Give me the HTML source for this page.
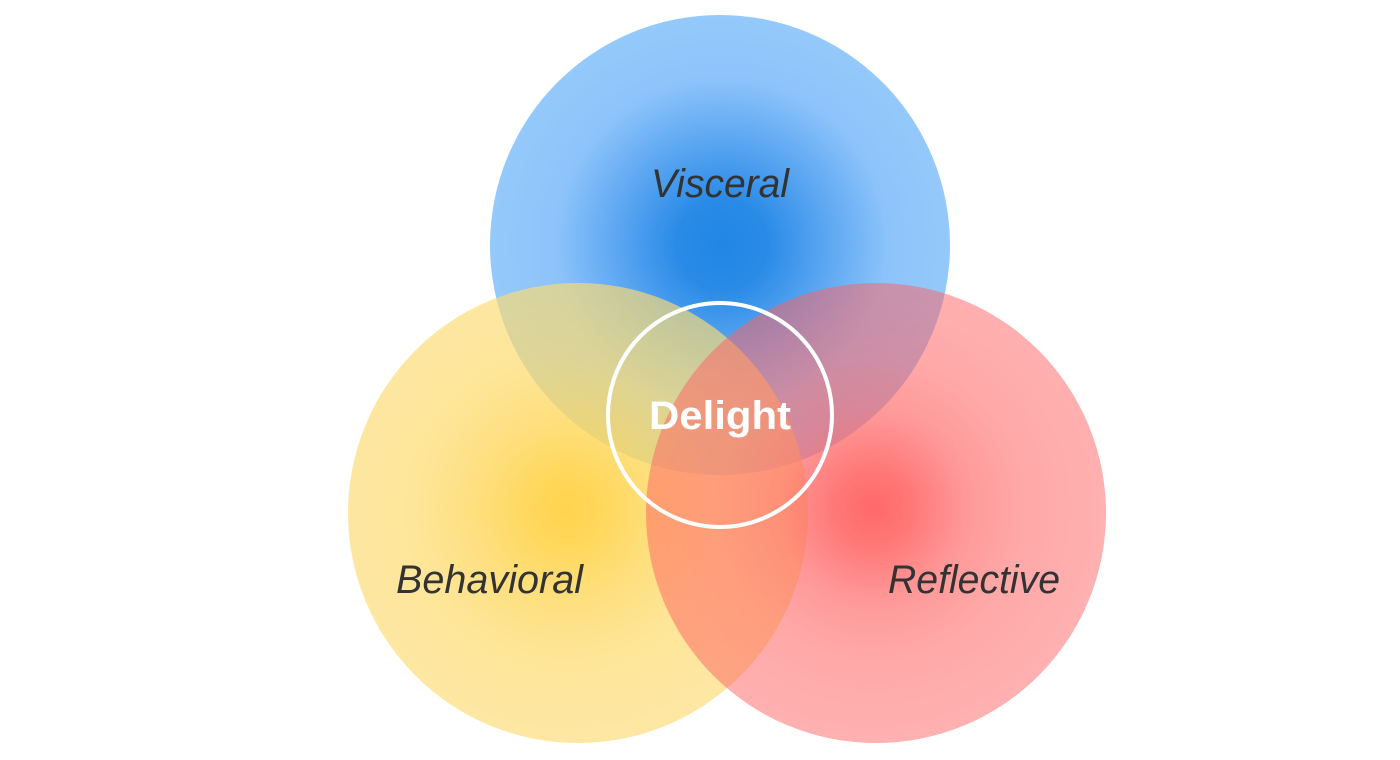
<!DOCTYPE html>
<html>
<head>
<meta charset="utf-8">
<style>
  html,body{margin:0;padding:0;background:#fff;}
  body{width:1400px;height:760px;overflow:hidden;}
  svg{display:block;}
</style>
</head>
<body>
<svg width="1400" height="760" viewBox="0 0 1400 760" xmlns="http://www.w3.org/2000/svg">
  <defs>
    <radialGradient id="gb" gradientUnits="userSpaceOnUse" cx="722" cy="245" r="230">
      <stop offset="0" stop-color="#2186E5"/>
      <stop offset="0.2" stop-color="#2A8BE7"/>
      <stop offset="0.47" stop-color="#5EA8F2"/>
      <stop offset="0.72" stop-color="#8CC3FA"/>
      <stop offset="1" stop-color="#95C9FB"/>
    </radialGradient>
    <radialGradient id="gy" gradientUnits="userSpaceOnUse" cx="567" cy="510" r="235">
      <stop offset="0" stop-color="rgb(255,212,78)" stop-opacity="1"/>
      <stop offset="0.15" stop-color="rgb(255,213,82)" stop-opacity="0.95"/>
      <stop offset="0.4" stop-color="rgb(254,216,96)" stop-opacity="0.8"/>
      <stop offset="0.65" stop-color="rgb(253,218,108)" stop-opacity="0.7"/>
      <stop offset="1" stop-color="rgb(252,219,115)" stop-opacity="0.66"/>
    </radialGradient>
    <radialGradient id="gr" gradientUnits="userSpaceOnUse" cx="873" cy="508" r="235">
      <stop offset="0" stop-color="rgb(255,105,105)" stop-opacity="1"/>
      <stop offset="0.15" stop-color="rgb(255,103,103)" stop-opacity="0.9"/>
      <stop offset="0.4" stop-color="rgb(255,100,100)" stop-opacity="0.66"/>
      <stop offset="0.65" stop-color="rgb(255,98,98)" stop-opacity="0.55"/>
      <stop offset="1" stop-color="rgb(255,97,97)" stop-opacity="0.5"/>
    </radialGradient>
  </defs>

  <circle cx="720" cy="245" r="230" fill="url(#gb)"/>
  <circle cx="578" cy="513" r="230" fill="url(#gy)"/>
  <circle cx="876" cy="513" r="230" fill="url(#gr)"/>

  <circle cx="720" cy="415" r="112" fill="none" stroke="#fff" stroke-width="4"/>

  <text x="651" y="197" font-family="Liberation Sans, DejaVu Sans, sans-serif" font-style="italic" font-size="40" fill="#333" textLength="138" lengthAdjust="spacingAndGlyphs">Visceral</text>
  <text x="396" y="593" font-family="Liberation Sans, DejaVu Sans, sans-serif" font-style="italic" font-size="40" fill="#333" textLength="187" lengthAdjust="spacingAndGlyphs">Behavioral</text>
  <text x="888" y="593" font-family="Liberation Sans, DejaVu Sans, sans-serif" font-style="italic" font-size="40" fill="#333" textLength="172" lengthAdjust="spacingAndGlyphs">Reflective</text>
  <text x="649" y="429" font-family="Liberation Sans, DejaVu Sans, sans-serif" font-weight="bold" font-size="40" fill="#fff" textLength="142" lengthAdjust="spacingAndGlyphs">Delight</text>
</svg>
</body>
</html>
